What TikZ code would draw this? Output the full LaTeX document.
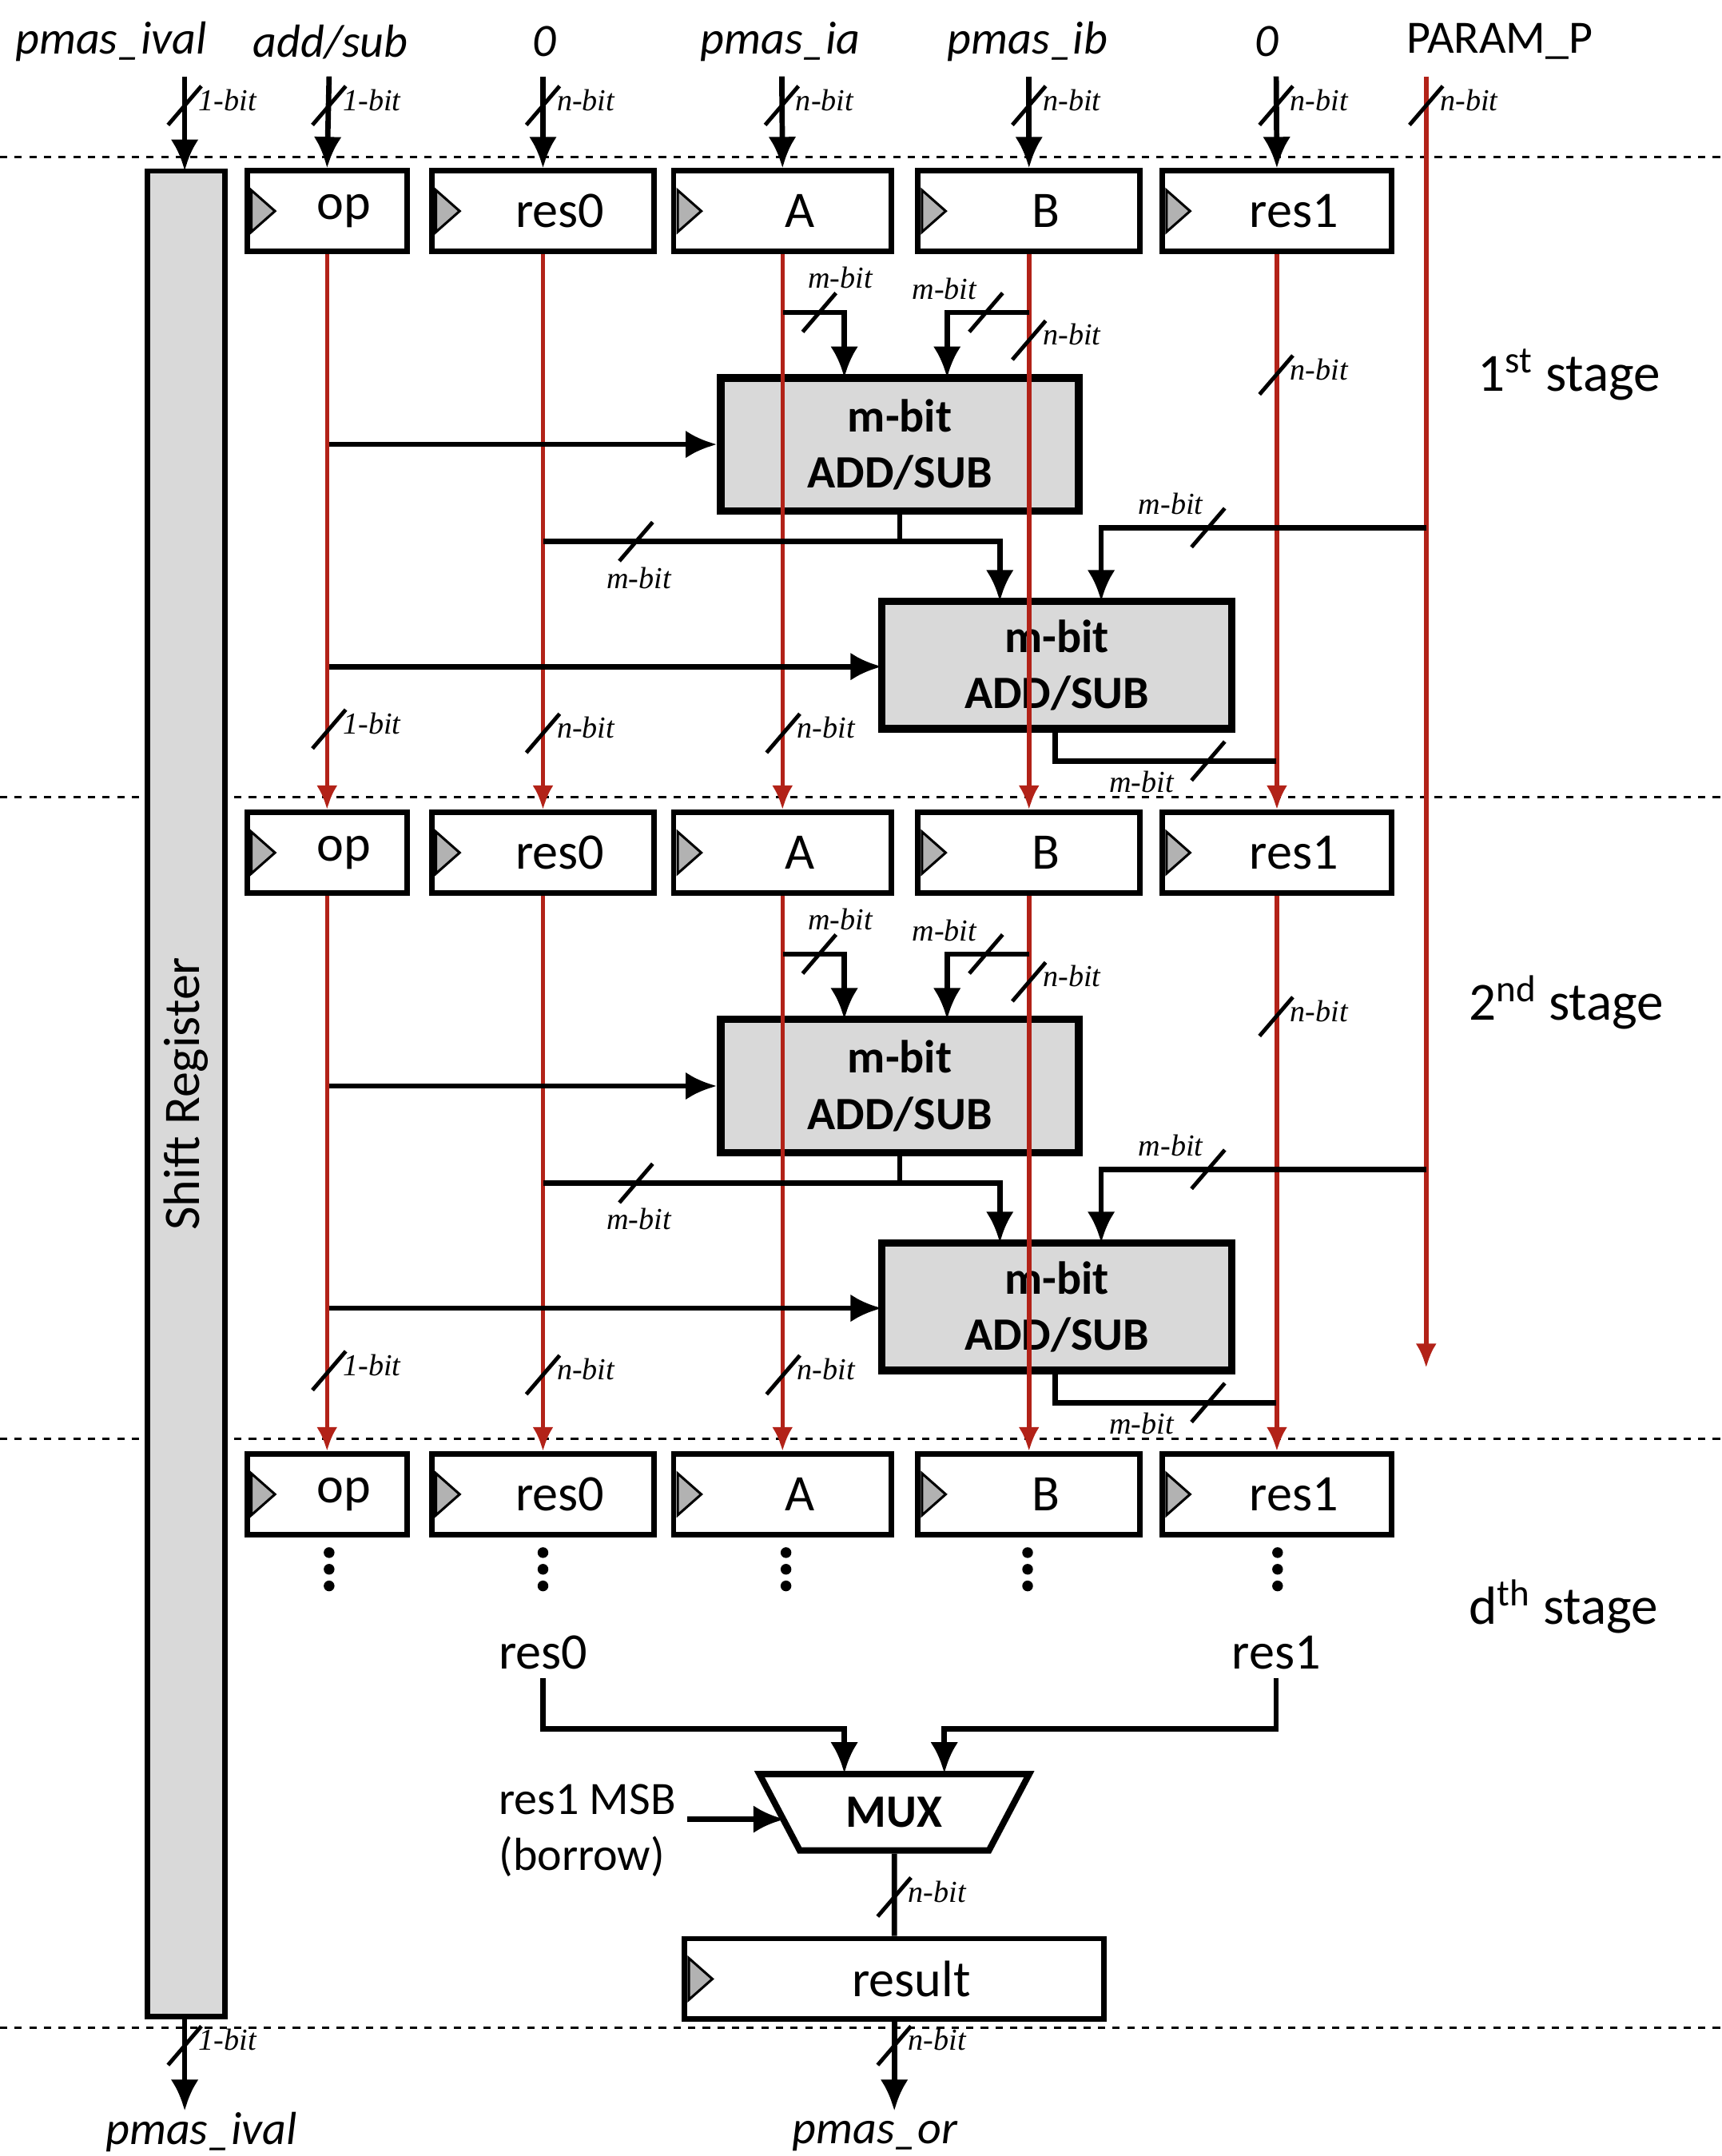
\documentclass[tikz,border=0pt]{standalone}
\usepackage{fontspec}
\setmainfont{Carlito}
\newfontfamily\tms{Liberation Serif}
\usetikzlibrary{arrows.meta, shapes.geometric, calc}
\definecolor{wirered}{RGB}{178,34,24}
\tikzset{
  reg/.style={
    draw=black,
    line width=2.2pt,
    minimum height=1.16cm,
    inner sep=0pt,
    font=\fontsize{21}{24}\selectfont
  },
%
  adder/.style={
    draw=black,
    line width=3.2pt,
    fill=gray!30,
    align=center,
    font=\fontsize{19}{23}\selectfont\bfseries
  },
%
  wire/.style={
    draw=black,
    line width=2.2pt
  },
%
  arr/.style={
    wire,
    -{Latex[length=4.5mm,width=4mm]}
  },
%
  redwire/.style={
    draw=wirered,
    line width=1.8pt,
    -{Latex[length=3.5mm,width=3mm]}
  },
%
  cut/.style={
    draw=black,
    line width=1.6pt
  },
%
  bits/.style={
    font=\fontsize{12.5}{14}\selectfont\tms\itshape,
    inner sep=1pt
  },
%
  io/.style={
    font=\fontsize{19}{22}\selectfont\itshape
  },
}
% slash with width label
\newcommand{\buswidth}[3]{%
  \draw[cut] ($(#1,#2)+(-12,14)$) -- ($(#1,#2)+(12,-14)$);
  \node[bits, anchor=west] at ($(#1,#2)+(8,-4)$) {#3};}

\begin{document}
\begin{tikzpicture}[x=0.02cm, y=-0.02cm]
\useasboundingbox (0,0) rectangle (1240,1552.5);

% stage borders
\foreach \yl in {113,574,1036,1460}
  \draw[dashed, line width=1pt] (0,\yl) -- (1240,\yl);

\node[draw, line width=2.2pt, fill=gray!30, minimum width=1.12cm,
      minimum height=26.58cm] (sreg) at (134,787.5) {};
\node[rotate=90, font=\fontsize{21}{24}\selectfont] at (sreg.center) {Shift Register};

% registers
\foreach \s/\o in {1/0,2/462,3/924} {
  \foreach \n/\l/\xa/\xb in {op/op/178/293, res0/res0/311/471, A/A/485/642,
                             B/B/661/821, res1/res1/837/1002} {
    \pgfmathsetmacro\w{(\xb-\xa)*0.02}
    \pgfmathsetmacro\xc{(\xa+\xb)/2}
    \pgfmathsetmacro\yc{152+\o}
    \node[reg, minimum width=\w cm] (\n\s) at (\xc,\yc) {\hspace{14pt}\l};
    \draw[line width=1pt, fill=gray!60] ($(\xa,\yc)+(3,-15)$) -- ($(\xa,\yc)+(3,15)$)
      -- ($(\xa,\yc)+(20,0)$) -- cycle;
  }
}

% inputs
\node[io] (iival) at (80,30) {pmas\_ival};
\node[io] (iop) at (238,30) {add/sub};
\node[io] (izero0) at (392,30) {0};
\node[io] (iia) at (562,30) {pmas\_ia};
\node[io] (iib) at (740,30) {pmas\_ib};
\node[io] (izero1) at (912,30) {0};
\node[font=\fontsize{19}{22}\selectfont] (iparam) at (1080,30) {PARAM\_P};
\draw[arr] (133,55) -- (133,123);
\draw[arr] (237,55) -- (op1.north);
\draw[arr] (391,55) -- (res01.north);
\draw[arr] (563,55) -- (A1.north);
\draw[arr] (741,55) -- (B1.north);
\draw[arr] (919,55) -- (res11.north);
\draw[redwire] (1027,55) -- (1027,985);
\buswidth{133}{76}{1-bit}
\buswidth{237}{76}{1-bit}
\buswidth{391}{76}{n-bit}
\buswidth{563}{76}{n-bit}
\buswidth{741}{76}{n-bit}
\buswidth{919}{76}{n-bit}
\buswidth{1027}{76}{n-bit}

% stages
\foreach \s/\t/\o in {1/2/0,2/3/462} {
  \node[adder, minimum width=5.16cm, minimum height=1.92cm] (addA\s) at (648,320+\o) {m-bit\\ADD/SUB};
  \node[adder, minimum width=5.04cm, minimum height=1.84cm] (addB\s) at (761,479+\o) {m-bit\\ADD/SUB};
  \foreach \n in {op,res0,A,B,res1}
    \draw[redwire] (\n\s.south) -- (\n\t.north);
  \draw[arr] (564,225+\o) -| (608,272+\o);
  \draw[arr] (741,225+\o) -| (682,272+\o);
  \draw[arr] (237,320+\o) -- (addA\s.west);
  \draw[arr] (237,480+\o) -- (635,480+\o);
  \draw[wire] (addA\s.south) -- (648,390+\o);
  \draw[arr] (391,390+\o) -| (720,433+\o);
  \draw[arr] (1027,380+\o) -| (793,433+\o);
  \draw[wire] (760,525+\o) |- (919,548+\o);
  \buswidth{590}{225+\o}{}
  \node[bits] at (605,200+\o) {m-bit};
  \buswidth{710}{225+\o}{}
  \node[bits] at (680,208+\o) {m-bit};
  \buswidth{741}{245+\o}{n-bit}
  \buswidth{919}{270+\o}{n-bit}
  \buswidth{458}{390+\o}{}
  \node[bits] at (460,416+\o) {m-bit};
  \buswidth{870}{380+\o}{}
  \node[bits] at (843,363+\o) {m-bit};
  \buswidth{870}{548+\o}{}
  \node[bits] at (822,563+\o) {m-bit};
  \buswidth{237}{525+\o}{1-bit}
  \buswidth{391}{528+\o}{n-bit}
  \buswidth{564}{528+\o}{n-bit}
}
\node[font=\fontsize{22}{26}\selectfont] at (1130,270) {1\textsuperscript{st} stage};
\node[font=\fontsize{22}{26}\selectfont] at (1128,722) {2\textsuperscript{nd} stage};
\node[font=\fontsize{22}{26}\selectfont] at (1126,1157) {d\textsuperscript{th} stage};

% last stage
\foreach \x in {237,391,566,740,920}
  \foreach \yd in {1118,1130,1142}
    \fill (\x,\yd) circle (2.2pt);
\node[font=\fontsize{21}{24}\selectfont] (ores0) at (391,1190) {res0};
\node[font=\fontsize{21}{24}\selectfont] (ores1) at (919,1190) {res1};
\node[draw, line width=2.6pt, trapezium, shape border rotate=180,
      trapezium left angle=56, trapezium right angle=56,
      minimum width=3.9cm, minimum height=1.1cm, inner sep=0pt,
      trapezium stretches=true,
      font=\fontsize{19}{22}\selectfont\bfseries] (mux) at (644,1305) {MUX};
\draw[arr] (ores0.south) |- (608,1245) -- (608,1277);
\draw[arr] (ores1.south) |- (680,1245) -- (680,1277);
\node[align=left, font=\fontsize{19}{23}\selectfont] (msb) at (423,1318) {res1 MSB\\(borrow)};
\draw[arr] (495,1310) -- (565,1310);
\node[reg, minimum width=6.04cm] (result) at (644,1425) {\hspace{14pt}result};
\draw[line width=1pt, fill=gray!60] (496,1410) -- (496,1440) -- (513,1425) -- cycle;
\draw[wire] (mux.south) -- (result.north);
\buswidth{644}{1366}{n-bit}

% outputs
\node[io] (oival) at (145,1535) {pmas\_ival};
\node[io] (oor) at (630,1538) {pmas\_or};
\draw[arr] (133,1452) -- (133,1520);
\draw[arr] (result.south) -- (644,1520);
\buswidth{133}{1473}{1-bit}
\buswidth{644}{1473}{n-bit}
\end{tikzpicture}
\end{document}
